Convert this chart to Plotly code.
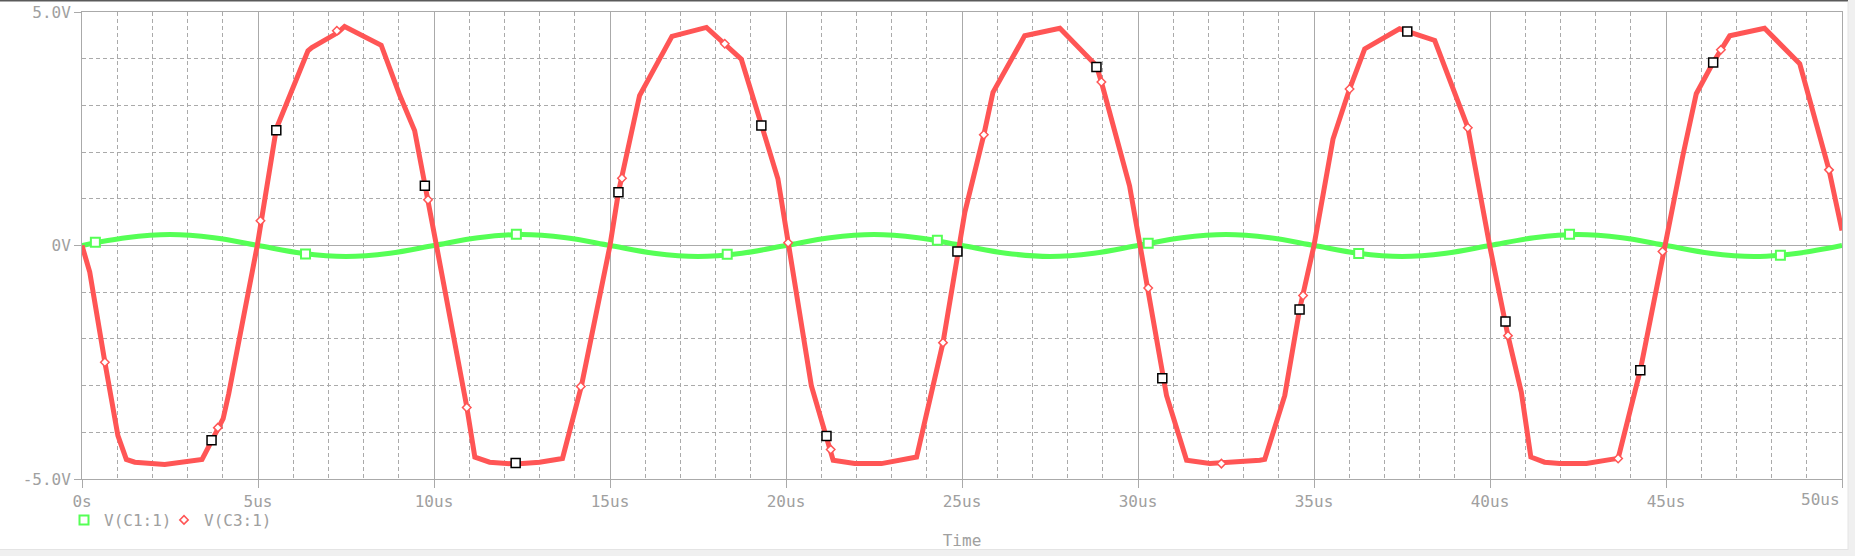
import plotly.graph_objects as go

# ---------------- data ----------------
# V(C3:1) : red trace vertices (time in us, volts)
red_t = [0.00, 0.22, 0.65, 1.02, 1.26, 1.50, 2.35, 3.41, 3.68, 4.01, 4.17, 4.98, 5.52, 6.42, 6.53,
         7.27, 7.46, 8.32, 8.50, 9.03, 9.45, 10.07, 10.93, 11.16, 11.58, 12.32, 13.00, 13.65,
         14.19, 15.00, 15.24, 15.84, 16.76, 17.74, 18.26, 18.73, 19.77, 20.72, 21.34, 21.95,
         22.71, 23.71, 24.46, 24.87, 25.08, 25.62, 25.88, 26.78, 27.78, 28.82, 28.96, 29.76,
         30.28, 30.81, 31.38, 32.04, 33.46, 33.60, 34.17, 34.59, 35.00, 35.54, 36.01, 36.44,
         37.43, 37.65, 38.43, 39.37, 39.99, 40.51, 40.89, 41.16, 41.55, 41.98, 42.74, 43.45,
         43.64, 44.27, 44.53, 45.01, 45.48, 45.86, 46.34, 46.56, 46.81, 47.80, 48.80, 49.63, 50.00]
red_v = [0.00, -0.57, -2.50, -4.07, -4.58, -4.64, -4.69, -4.58, -4.19, -3.71, -3.17, 0.00, 2.50, 4.17, 4.24,
         4.56, 4.69, 4.37, 4.29, 3.21, 2.46, 0.00, -3.45, -4.53, -4.64, -4.68, -4.64, -4.56,
         -3.00, 0.00, 1.14, 3.21, 4.48, 4.67, 4.32, 3.99, 1.43, -3.00, -4.60, -4.67,
         -4.67, -4.53, -2.08, -0.13, 0.71, 2.37, 3.28, 4.49, 4.65, 3.85, 3.50, 1.28,
         -0.91, -3.21, -4.60, -4.67, -4.60, -4.58, -3.21, -1.37, 0.00, 2.28, 3.35, 4.21,
         4.64, 4.58, 4.39, 2.53, 0.00, -1.93, -3.14, -4.53, -4.64, -4.67, -4.67, -4.58,
         -4.56, -2.67, -1.64, 0.14, 1.93, 3.25, 3.92, 4.19, 4.49, 4.65, 3.89, 1.62, 0.32]

# red diamond markers on V(C3:1)
red_mk_t = [0.65, 3.86, 5.07, 7.24, 9.83, 10.93, 14.17, 15.34, 18.26, 20.06, 21.27, 24.46,
            25.62, 28.96, 30.29, 32.37, 34.69, 36.01, 39.37, 40.51, 43.64, 44.90, 46.56, 49.63]
red_mk_v = [-2.50, -3.90, 0.53, 4.60, 0.98, -3.47, -3.02, 1.44, 4.32, 0.06, -4.37, -2.08,
            2.37, 3.50, -0.91, -4.67, -1.07, 3.35, 2.52, -1.93, -4.56, -0.13, 4.19, 1.62]

# black square markers along V(C3:1)
blk_t = [3.68, 5.52, 9.74, 12.32, 15.24, 19.30, 21.15, 24.87, 28.82, 30.69, 34.59, 37.65, 40.44, 44.27, 46.34]
blk_v = [-4.17, 2.47, 1.28, -4.66, 1.14, 2.57, -4.08, -0.13, 3.82, -2.84, -1.37, 4.58, -1.63, -2.67, 3.92]

# V(C1:1) : green trace
grn_t = [0.00, 1.25, 2.50, 3.75, 5.00, 6.25, 7.50, 8.75, 10.00, 11.25, 12.50, 13.75, 15.00, 16.25,
         17.50, 18.75, 20.00, 21.25, 22.50, 23.75, 25.00, 26.25, 27.50, 28.75, 30.00, 31.25,
         32.50, 33.75, 35.00, 36.25, 37.50, 38.75, 40.00, 41.25, 42.50, 43.75, 45.00, 46.25,
         47.50, 48.75, 50.00]
grn_v = [0.000, 0.165, 0.235, 0.165, 0.000, -0.165, -0.235, -0.165, 0.000, 0.165, 0.235, 0.165, 0.000, -0.165,
         -0.235, -0.165, 0.000, 0.165, 0.235, 0.165, 0.000, -0.165, -0.235, -0.165, 0.000, 0.165,
         0.235, 0.165, 0.000, -0.165, -0.235, -0.165, 0.000, 0.165, 0.235, 0.165, 0.000, -0.165,
         -0.235, -0.165, 0.000]
grn_mk_t = [0.38, 6.35, 12.34, 18.33, 24.30, 30.29, 36.27, 42.26, 48.25]
grn_mk_v = [0.07, -0.18, 0.24, -0.19, 0.11, 0.05, -0.17, 0.24, -0.21]

x_tickvals = [0, 5, 10, 15, 20, 25, 30, 35, 40, 45, 50]
x_ticktext = ["0s", "5us", "10us", "15us", "20us", "25us", "30us", "35us", "40us", "45us", ""]
x_last_label = "50us"
y_tickvals = [-5, 0, 5]
y_ticktext = ["-5.0V", "0V", "5.0V"]

# ---------------- style ----------------
RED = "#FF5555"
GREEN = "#55FF55"
GRID = "#AAAAAA"
TXT = "#A0A0A0"
FONT = "DejaVu Sans Mono"

W, H = 1855, 556
ML, MR, MT, MB = 82, 13, 12, 77
PW, PH = W - ML - MR, H - MT - MB


def px_x(p):
    return (p - ML) / PW


def px_y(p):
    return (H - MB - p) / PH


fig = go.Figure()
fig.add_trace(go.Scatter(x=grn_t, y=grn_v, mode="lines", line=dict(color=GREEN, width=5, shape="spline"),
                         showlegend=False, hoverinfo="skip"))
fig.add_trace(go.Scatter(x=grn_mk_t, y=grn_mk_v, mode="markers", name="V(C1:1)", legend="legend",
                         marker=dict(symbol="square", size=9, color="white", line=dict(color=GREEN, width=2))))
fig.add_trace(go.Scatter(x=red_t, y=red_v, mode="lines", line=dict(color=RED, width=5),
                         showlegend=False, hoverinfo="skip"))
fig.add_trace(go.Scatter(x=red_mk_t, y=red_mk_v, mode="markers", name="V(C3:1)", legend="legend2",
                         marker=dict(symbol="diamond", size=6.5, color="white", line=dict(color=RED, width=1.5))))
fig.add_trace(go.Scatter(x=blk_t, y=blk_v, mode="markers", showlegend=False,
                         marker=dict(symbol="square", size=9, color="white", line=dict(color="black", width=1.5))))

x_minor = [v for v in range(1, 50) if v % 5 != 0]
y_minor = [v for v in range(-4, 5) if v != 0]

# window chrome: dark top edge, light grey strips at right and bottom
shapes = [
    dict(type="rect", xref="paper", yref="paper", x0=px_x(0), x1=px_x(W), y0=px_y(1.5), y1=px_y(0),
         fillcolor="#5A5A5A", line=dict(width=0), layer="above"),
    dict(type="rect", xref="paper", yref="paper", x0=px_x(1848), x1=px_x(W), y0=px_y(H), y1=px_y(0),
         fillcolor="#F0F0F0", line=dict(width=0), layer="above"),
    dict(type="rect", xref="paper", yref="paper", x0=px_x(0), x1=px_x(W), y0=px_y(H), y1=px_y(550),
         fillcolor="#F0F0F0", line=dict(width=0), layer="above"),
    dict(type="line", xref="paper", yref="paper", x0=px_x(1848), x1=px_x(1848), y0=px_y(550), y1=px_y(1.5),
         line=dict(color="#E4E4E4", width=1), layer="above"),
    dict(type="line", xref="paper", yref="paper", x0=px_x(0), x1=px_x(1848), y0=px_y(549.5), y1=px_y(549.5),
         line=dict(color="#E4E4E4", width=1), layer="above"),
]

legend_common = dict(orientation="h", xanchor="left", yanchor="middle", y=px_y(520),
                     font=dict(family=FONT, size=16, color=TXT), bgcolor="rgba(0,0,0,0)")

fig.update_layout(
    width=W, height=H,
    margin=dict(l=ML, r=MR, t=MT, b=MB),
    paper_bgcolor="white", plot_bgcolor="white",
    font=dict(family=FONT, size=16, color=TXT),
    shapes=shapes,
    annotations=[dict(x=50, xref="x", y=px_y(500), yref="paper", text=x_last_label, showarrow=False,
                      xanchor="right", yanchor="middle", font=dict(family=FONT, size=16, color=TXT))],
    legend=dict(x=px_x(64), **legend_common),
    legend2=dict(x=px_x(164), **legend_common),
    xaxis=dict(range=[0, 50], tickmode="array", tickvals=x_tickvals, ticktext=x_ticktext,
               ticks="outside", ticklen=8, tickcolor=GRID, tickwidth=1,
               showline=True, linecolor=GRID, linewidth=1, mirror=True,
               showgrid=True, gridcolor=GRID, gridwidth=1, zeroline=False,
               minor=dict(tickmode="array", tickvals=x_minor, showgrid=True, gridcolor=GRID,
                          griddash="4px,3px", gridwidth=1, ticks=""),
               tickfont=dict(family=FONT, size=16, color=TXT), ticklabeloverflow="allow",
               title=dict(text="Time", font=dict(family=FONT, size=16, color=TXT), standoff=24),
               automargin=False),
    yaxis=dict(range=[-5, 5], tickmode="array", tickvals=y_tickvals, ticktext=y_ticktext,
               ticks="outside", ticklen=7, tickcolor=GRID, tickwidth=1,
               showline=True, linecolor=GRID, linewidth=1, mirror=True,
               showgrid=True, gridcolor=GRID, gridwidth=1, zeroline=False,
               minor=dict(tickmode="array", tickvals=y_minor, showgrid=True, gridcolor=GRID,
                          griddash="4px,3px", gridwidth=1, ticks=""),
               tickfont=dict(family=FONT, size=16, color=TXT), ticklabeloverflow="allow",
               automargin=False),
)

# remove the default 8px page margin so the figure fills the 1855x556 window exactly
fig.write_html("out.html", config={"displayModeBar": False},
               post_script="document.body.style.margin='0';")
